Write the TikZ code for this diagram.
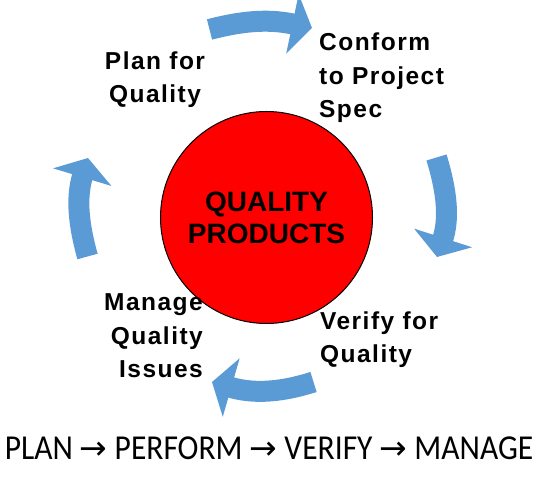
\documentclass[tikz,border=0pt]{standalone}
\usepackage{fontspec}
\setmainfont{Liberation Sans}
\newfontfamily\labelfont[LetterSpace=6]{Liberation Sans}
\newfontfamily\stepfont[FakeStretch=0.9]{Carlito}
\newfontfamily\symfont{DejaVu Sans}
\usetikzlibrary{arrows.meta}
\definecolor{arrowblue}{RGB}{91,155,213}

\tikzset{
  cyclearrow/.style={draw=arrowblue, line width=21pt,
    -{Triangle[length=20pt,width=60pt]}},
  phase/.style={inner sep=0pt, font=\labelfont\bfseries\fontsize{24.5}{33.5}\selectfont},
}
\newcommand{\steparrow}{{\symfont\fontsize{33}{35}\selectfont →}}

\begin{document}
\begin{tikzpicture}[x=1pt,y=1pt]
        \useasboundingbox (0,0) rectangle (553,478);
        % centre of the cycle
        \node[circle, draw=black, line width=1pt, fill=red, minimum size=212pt,
              inner sep=0pt, align=center,
              font=\bfseries\fontsize{28}{32}\selectfont] (core) at (266.5,260.5)
              {QUALITY\\PRODUCTS};
        % the four phases (base = last line)
        \node[phase, align=center, anchor=base] (plan) at (155,375) {Plan for\\Quality};
        \node[phase, align=left, anchor=base west] (conform) at (319,360) {Conform\\to Project\\Spec};
        \node[phase, align=left, anchor=base west] (verify) at (320,115) {Verify for\\Quality};
        \node[phase, align=right, anchor=base east] (manage) at (203,100) {Manage\\Quality\\Issues};
        % curved arrows between them
        \coordinate (plantail) at (209.5,448.5);
        \coordinate (planhead) at (312,450);
        \coordinate (conformtail) at (436.5,320.5);
        \coordinate (conformhead) at (437,221);
        \coordinate (verifytail) at (313.5,96);
        \coordinate (verifyhead) at (212,96);
        \coordinate (managetail) at (87.5,221.5);
        \coordinate (managehead) at (88,320);
        \draw[cyclearrow] (plantail) to[out=14.7,in=168.2] (planhead);
        \draw[cyclearrow] (conformtail) to[out=-73,in=72.2] (conformhead);
        \draw[cyclearrow] (verifytail) to[out=197.6,in=-16.1] (verifyhead);
        \draw[cyclearrow] (managetail) to[out=105.6,in=253.2] (managehead);
        % steps line
        \node[anchor=base, inner sep=0pt, font=\stepfont\fontsize{35}{40}\selectfont] (steps) at (269,18)
              {PLAN \steparrow{} PERFORM \steparrow{} VERIFY \steparrow{} MANAGE};
    \end{tikzpicture}
\end{document}
